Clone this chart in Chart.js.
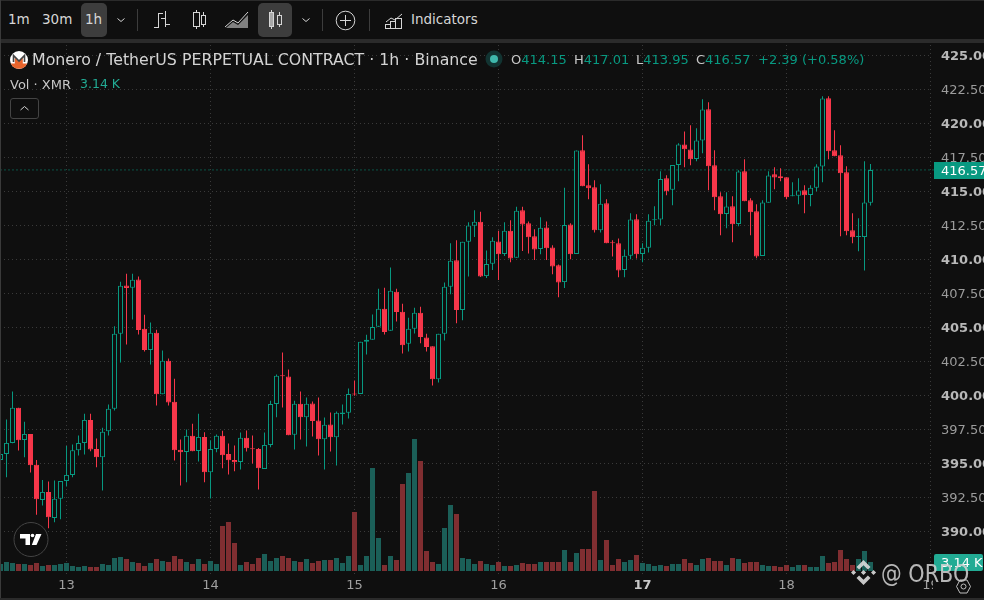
<!DOCTYPE html>
<html><head><meta charset="utf-8">
<script src="https://cdn.jsdelivr.net/npm/chart.js@4/dist/chart.umd.min.js"></script>
<style>
html,body{margin:0;padding:0;background:#0f0f0f;width:984px;height:600px;overflow:hidden;font-family:"DejaVu Sans",sans-serif}
#c{position:absolute;left:0;top:0}
.t{position:absolute;white-space:nowrap;line-height:1}
.b{position:absolute}
svg{position:absolute;overflow:visible}
</style></head><body>
<canvas id="c" width="984" height="600"></canvas>

<div class="b" style="left:0;top:0;width:984px;height:39px;background:#0f0f0f"></div>
<div class="b" style="left:0;top:39px;width:984px;height:4px;background:#2b2b2b"></div>
<div class="b" style="left:0;top:0;width:984px;height:1px;background:#2b2b2b"></div>
<div class="b" style="left:0;top:0;width:1px;height:600px;background:#3a3a3a"></div>
<div class="b" style="left:0;top:598px;width:984px;height:2px;background:#2b2b2b"></div>
<div class="b" style="left:81px;top:3px;width:26px;height:34px;background:#3d3d3d;border-radius:5px"></div>
<div class="b" style="left:258px;top:3px;width:34px;height:34px;background:#3d3d3d;border-radius:5px"></div>
<div class="b" style="left:137px;top:9px;width:1px;height:22px;background:#3d3d3d"></div>
<div class="b" style="left:322px;top:9px;width:1px;height:22px;background:#3d3d3d"></div>
<div class="b" style="left:369px;top:9px;width:1px;height:22px;background:#3d3d3d"></div>
<div class="t" style="left:8px;top:13px;font-size:13.5px;color:#d6d6d6">1m</div>
<div class="t" style="left:42px;top:13px;font-size:13.5px;color:#d6d6d6">30m</div>
<div class="t" style="left:85px;top:13px;font-size:13.5px;color:#d6d6d6">1h</div>
<div class="t" style="left:411px;top:13px;font-size:13.5px;color:#d6d6d6">Indicators</div>
<svg style="left:0;top:0" width="500" height="40" fill="none" stroke="#d6d6d6" stroke-width="1">
<path d="M117.5 18.5l3.5 3 3.5-3M302.5 18.5l3.5 3 3.5-3"/>
<path d="M158.5 13v15M154 27.5h4.5M158.5 13.5h4.5M165.5 11v16M161 18.5h4.5M165.5 24.5h4.5"/>
<path d="M196.5 10v19M203.5 12v15"/><rect x="193.5" y="12.5" width="6" height="14" fill="#0f0f0f"/><rect x="201.5" y="15.5" width="4" height="9" fill="#0f0f0f"/>
<path d="M225 27l8-7 5 3 10-11"/><path d="M226 28l7-6 5 3 10-10v13z" stroke="none" fill="#bdbdbd" opacity=".65"/>
<path d="M271.5 10v19M279.5 12v15"/><rect x="269.5" y="12.5" width="4" height="14" fill="#a8a8a8"/><rect x="277.5" y="15.5" width="4" height="9" fill="#3d3d3d"/>
<circle cx="345.5" cy="20.5" r="9.3"/><path d="M345.5 15v11M340 20.5h11"/>
<path d="M386 22l5-4 4 2 7-6"/><rect x="385.5" y="24.5" width="5" height="4"/><rect x="390.5" y="21.5" width="5" height="7"/><rect x="395.5" y="18.5" width="6" height="10"/>
</svg>

<svg style="left:10px;top:51px" width="18" height="18">
<circle cx="9" cy="9" r="9" fill="#fff"/><path d="M0.8 12.5h4v-6l4 4 4-4v6h4.4a9 9 0 0 1-16.4 0z" fill="#e8642c"/><path d="M3.5 11V4.5l5.5 5.5 5.5-5.5V11" fill="none" stroke="#444" stroke-width="1.6"/>
</svg>
<div class="t" id="title" style="left:32px;top:52px;font-size:15.8px;color:#d4d4d4">Monero / TetherUS PERPETUAL CONTRACT · 1h · Binance</div>
<svg style="left:485px;top:50px" width="18" height="18"><circle cx="9" cy="9" r="8.5" fill="#123432"/><circle cx="9" cy="9" r="4" fill="#3fb8ac"/></svg>
<div class="t" style="left:511px;top:53px;font-size:13px;color:#c8c8c8">O<span style="color:#089981">414.15</span></div>
<div class="t" style="left:574px;top:53px;font-size:13px;color:#c8c8c8">H<span style="color:#089981">417.01</span></div>
<div class="t" style="left:636px;top:53px;font-size:13px;color:#c8c8c8">L<span style="color:#089981">413.95</span></div>
<div class="t" style="left:696px;top:53px;font-size:13px;color:#c8c8c8">C<span style="color:#089981">416.57</span></div>
<div class="t" style="left:758px;top:53px;font-size:13px;color:#089981">+2.39 (+0.58%)</div>
<div class="t" style="left:10px;top:78px;font-size:13px;color:#c8c8c8">Vol · XMR</div>
<div class="t" style="left:80px;top:78px;font-size:12.5px;color:#22ab94">3.14 K</div>
<div class="b" style="left:10px;top:98px;width:27px;height:19px;border:1px solid #444;border-radius:3px"></div>
<svg style="left:10px;top:98px" width="29" height="21" fill="none" stroke="#d6d6d6"><path d="M10.5 12l4-3.5 4 3.5"/></svg>

<div class="b" style="left:934px;top:162px;width:50px;height:17px;background:#089981"></div>
<div class="t" style="left:941px;top:164px;font-size:13px;color:#fff">416.57</div>
<div class="b" style="left:933px;top:574px;width:51px;height:24px;background:#0f0f0f"></div>
<div class="b" style="left:934px;top:554px;width:49px;height:17px;background:#22ab94;border-radius:2px"></div>
<div class="t" style="left:941px;top:556px;font-size:13px;color:#fff">3.14 K</div>

<svg style="left:14px;top:522px" width="34" height="34"><circle cx="17" cy="17.5" r="17" fill="#0f0f0f" stroke="#444"/>
<path d="M6 12h10v11h-4.5v-6.5H6zM22 12h5.5l-5 11h-4.7z" fill="#fff"/><circle cx="18.5" cy="13.5" r="1.8" fill="#fff"/></svg>

<svg style="left:849px;top:559px" width="30" height="30" fill="#dcdcdc" opacity=".9">
<path d="M14.5 0l7 7-2.6 2.6-4.4-4.4-4.4 4.4L7.5 7zM2 12.5l2.5-2.5 2.6 2.5L4.5 15zM22 12.5l2.5-2.5 2.6 2.5-2.6 2.5zM14.5 10l2.6 2.5-2.6 2.6-2.6-2.6zM7.5 18l2.6-2.6 4.4 4.4 4.4-4.4 2.6 2.6-7 7z" transform="translate(0 1)"/></svg>
<div class="t" style="left:881px;top:561px;font-size:25px;color:#d4d4d4;opacity:.85;transform:scaleX(.83);transform-origin:left center">@ ORBO</div>
<svg style="left:956px;top:579px" width="16" height="16" fill="none" stroke="#bdbdbd"><path d="M4 1h7l3.5 6.5L11 14H4L.5 7.5z"/><circle cx="7.5" cy="7.5" r="2.5"/></svg>

<script>
const dayTicks=[11,35,59,83,107,131,155];
const dayLabels=["13","14","15","16","17","18","19"];
const priceTicks=[425,422.5,420,417.5,415,412.5,410,407.5,405,402.5,400,397.5,395,392.5,390];
const lastPrice=416.57;

const opens=[395.27,395.71,396.52,399.10,396.74,397.18,394.91,392.33,392.92,391.01,
392.41,393.73,394.17,395.98,396.52,398.21,396.08,395.47,397.38,399.02,
404.54,408.09,407.92,408.53,404.91,403.34,404.61,400.10,402.55,399.54,
396.01,395.86,397.04,395.93,396.96,394.37,396.08,397.04,395.71,395.27,
395.12,396.89,396.11,396.08,394.61,396.37,399.37,401.47,401.40,397.11,
399.39,398.41,399.41,398.16,396.79,397.87,396.94,398.65,398.73,400.15,
400.12,403.95,404.10,405.05,406.37,404.76,407.62,406.15,403.80,404.90,
406.08,404.27,403.61,401.20,404.54,407.99,409.93,406.28,411.30,412.47,
412.77,408.77,409.68,411.32,410.39,412.11,410.12,413.60,412.65,411.69,
410.76,412.35,410.88,409.56,408.33,412.57,410.39,418.01,415.44,415.29,
412.13,414.12,411.25,411.18,409.22,410.27,412.94,410.39,410.86,412.87,
412.92,415.96,415.12,416.94,418.43,418.07,417.38,418.73,421.03,416.92,
414.64,413.34,413.90,412.60,416.47,414.34,413.53,410.25,414.15,416.25,
416.11,416.03,414.64,414.68,415.08,414.73,415.27,416.82,421.84,418.02,
417.65,416.40,412.14,411.65,411.65,414.15];
const highs=[395.84,398.24,400.30,399.10,398.07,397.18,395.27,393.80,393.68,393.75,
393.73,396.30,396.40,397.06,398.66,398.66,396.84,397.63,399.34,405.08,
408.36,408.95,408.95,408.75,405.93,405.37,404.83,403.31,402.72,401.23,
396.77,397.50,397.92,398.66,397.31,396.72,397.14,397.41,396.47,396.33,
397.28,397.43,397.06,396.15,397.28,399.61,401.55,403.16,401.91,399.61,
400.30,399.86,399.56,399.86,398.38,398.75,398.83,399.34,400.52,401.11,
403.95,404.46,405.96,407.85,407.92,409.41,407.85,406.74,405.71,406.45,
406.52,404.54,403.61,404.54,408.31,411.18,411.40,411.30,412.72,413.60,
413.50,410.66,411.62,412.11,412.72,412.87,413.87,413.87,412.79,412.21,
413.09,412.79,411.03,409.63,415.27,412.65,417.99,419.12,416.98,415.81,
415.51,414.41,411.40,411.54,410.73,413.38,413.31,411.18,413.31,413.90,
416.47,416.18,416.94,418.53,419.39,419.86,419.64,421.77,421.55,418.02,
414.93,414.93,414.64,416.55,417.36,414.49,414.05,414.34,416.47,416.77,
416.69,416.03,415.67,415.96,415.44,415.44,416.99,421.99,421.99,419.49,
418.39,416.84,413.39,413.02,417.21,417.01];
const lows=[395.22,394.00,396.50,395.96,395.47,394.34,391.25,391.92,390.25,390.69,
390.91,393.31,394.00,395.59,395.67,395.91,394.73,393.02,397.06,398.90,
402.43,403.75,405.59,404.49,403.24,402.28,399.27,400.10,399.27,395.22,
393.39,393.63,395.91,395.15,393.63,392.43,395.84,394.66,394.19,394.44,
394.56,395.88,395.00,393.09,394.61,396.20,398.41,399.12,397.09,396.03,
396.77,396.25,396.99,395.59,394.56,395.88,394.86,397.87,398.31,399.98,
400.12,403.02,404.10,405.05,404.49,404.76,405.44,403.09,403.24,404.56,
403.83,403.24,400.74,400.96,404.05,407.43,405.30,405.52,408.75,411.64,
408.70,408.63,409.22,408.48,410.24,409.78,410.12,410.61,410.44,409.95,
410.37,409.95,408.90,407.21,407.89,410.00,410.39,415.37,414.41,411.98,
411.98,411.18,410.22,408.68,408.68,410.00,410.07,409.78,410.51,412.50,
412.50,414.71,413.97,415.73,416.77,416.92,417.21,417.80,415.08,413.61,
411.77,412.28,411.25,412.43,414.27,411.77,410.08,410.25,414.15,415.15,
415.74,414.42,414.64,414.05,413.39,413.90,415.00,415.67,417.36,417.58,
411.69,411.77,411.18,410.59,409.19,413.95];
const closes=[395.71,396.52,399.10,396.72,397.18,394.88,392.38,392.92,391.06,392.41,
393.73,394.17,395.98,396.52,398.21,396.03,395.47,397.33,399.02,404.54,
408.07,407.90,408.51,404.81,403.34,404.61,400.10,402.55,399.49,395.98,
395.84,397.04,395.91,396.96,394.37,396.08,397.04,395.62,395.25,395.10,
396.89,396.13,396.06,394.66,396.37,399.37,401.45,401.42,397.09,399.39,
398.41,399.39,398.12,396.79,397.85,396.94,398.73,398.75,400.12,400.08,
403.95,404.10,405.03,406.37,404.66,407.70,406.13,403.70,404.90,406.08,
404.29,403.56,401.20,404.54,407.99,409.90,406.28,411.30,412.48,412.77,
408.75,409.66,411.37,410.37,412.11,410.07,413.58,412.57,411.62,410.73,
412.33,410.81,409.48,408.31,412.52,410.37,417.99,415.37,415.22,412.13,
414.09,411.18,411.18,409.19,410.27,412.92,410.37,410.86,412.84,412.92,
415.91,415.00,416.94,418.43,418.09,417.36,418.73,421.01,416.84,414.56,
413.31,413.88,412.58,416.45,414.27,413.46,410.22,414.17,416.16,416.01,
415.96,414.56,414.68,415.05,414.71,415.27,416.82,421.82,417.94,417.58,
416.33,412.06,411.62,411.69,414.17,416.57];
const volumes=[2.44,3.14,2.79,2.44,2.44,2.09,2.79,1.74,2.09,2.09,
2.44,2.79,1.74,1.40,1.74,1.40,1.40,2.44,2.09,4.53,
4.88,4.19,3.14,2.79,1.74,2.79,4.19,3.49,3.14,5.23,
4.19,3.14,2.44,4.19,2.44,3.49,2.44,15.70,17.09,9.77,
2.09,3.14,2.44,4.53,5.93,3.49,4.53,5.23,4.53,3.49,
3.14,4.19,2.79,3.49,3.84,3.84,4.53,2.79,5.23,20.58,
2.09,5.23,35.93,11.51,2.09,5.23,3.84,30.35,34.19,46.05,
38.37,6.98,3.14,2.44,15.00,23.02,19.88,4.53,4.19,2.44,
3.49,2.44,2.09,3.14,1.74,1.74,2.09,2.79,2.44,2.44,
3.14,3.14,3.14,3.14,7.33,3.14,6.28,7.67,7.67,27.91,
3.84,10.81,2.09,4.19,3.14,3.84,5.58,2.79,2.44,1.74,
2.09,1.74,2.44,2.44,4.19,2.79,2.09,4.19,4.53,3.49,
3.49,2.09,4.53,4.19,2.79,3.14,3.14,2.09,1.74,1.74,
1.40,2.09,1.40,2.09,2.09,1.40,1.40,5.23,2.79,3.14,
7.33,4.19,2.09,4.19,6.98,3.14];

const GREEN="#089981",RED="#f7374a",BG="#0f0f0f";
const isUp=closes.map((c,i)=>c>=opens[i]);
const idx=closes.map((_,i)=>i);

new Chart(document.getElementById("c"),{
  type:"bar",
  data:{datasets:[
    {label:"Vol",yAxisID:"y1",order:5,grouped:false,barThickness:5,inflateAmount:0,
     data:idx.map(i=>({x:i,y:volumes[i]})),
     backgroundColor:isUp.map(u=>u?"#1b5f58":"#802e31")},
    {type:"line",label:"Last",yAxisID:"y",order:4,borderColor:GREEN,borderWidth:1,borderDash:[1,3],pointRadius:0,clip:false,
     data:[{x:0,y:lastPrice},{x:155.5,y:lastPrice}]},
    {label:"Wick",yAxisID:"y",order:3,grouped:false,barThickness:1,inflateAmount:0,borderWidth:0,
     data:idx.map(i=>({x:i,y:[lows[i],highs[i]]})),
     backgroundColor:isUp.map(u=>u?GREEN:RED)},
    {label:"Body",yAxisID:"y",order:2,grouped:false,barThickness:5,inflateAmount:0,minBarLength:1,
     borderSkipped:false,borderWidth:1,
     data:idx.map(i=>({x:i,y:[opens[i],closes[i]]})),
     backgroundColor:isUp.map(u=>u?BG:RED),
     borderColor:isUp.map(u=>u?GREEN:RED)}
  ]},
  options:{
    responsive:false,animation:false,devicePixelRatio:1,
    layout:{padding:{top:41,left:0,right:0,bottom:0}},
    plugins:{legend:{display:false},tooltip:{enabled:false},title:{display:false}},
    events:[],
    scales:{
      x:{type:"linear",offset:false,min:-0.0833,max:155.0833,position:"bottom",
        afterFit:s=>{s.height=26},
        afterBuildTicks:s=>{s.ticks=dayTicks.map(v=>({value:v}))},
        grid:{color:"#3a3a3a",drawTicks:false,offset:false},
        border:{display:false,dash:[1,3]},
        ticks:{autoSkip:false,maxRotation:0,padding:4,
          callback:v=>dayLabels[dayTicks.indexOf(v)],
          font:c=>({family:"DejaVu Sans",size:13,weight:dayLabels[c.index]==="17"?"bold":"normal"}),
          color:c=>dayLabels[c.index]==="17"?"#c8c8c8":"#a0a0a0"}},
      y:{type:"linear",position:"right",min:386.89,max:426.04,
        afterFit:s=>{s.width=53},
        afterBuildTicks:s=>{s.ticks=priceTicks.map(v=>({value:v}))},
        grid:{color:"#3a3a3a",drawTicks:false},
        border:{display:false,dash:[1,3]},
        ticks:{padding:10,labelOffset:1,crossAlign:"near",autoSkip:false,
          callback:v=>v.toFixed(2),
          font:c=>({family:"DejaVu Sans",size:13,weight:priceTicks[c.index]%5===0?"bold":"normal"}),
          color:c=>priceTicks[c.index]%5===0?"#b8b8b8":"#9c9c9c"}},
      y1:{type:"linear",display:false,min:-1.05,max:184.9,position:"right"}
    }
  }
});
</script>
</body></html>
